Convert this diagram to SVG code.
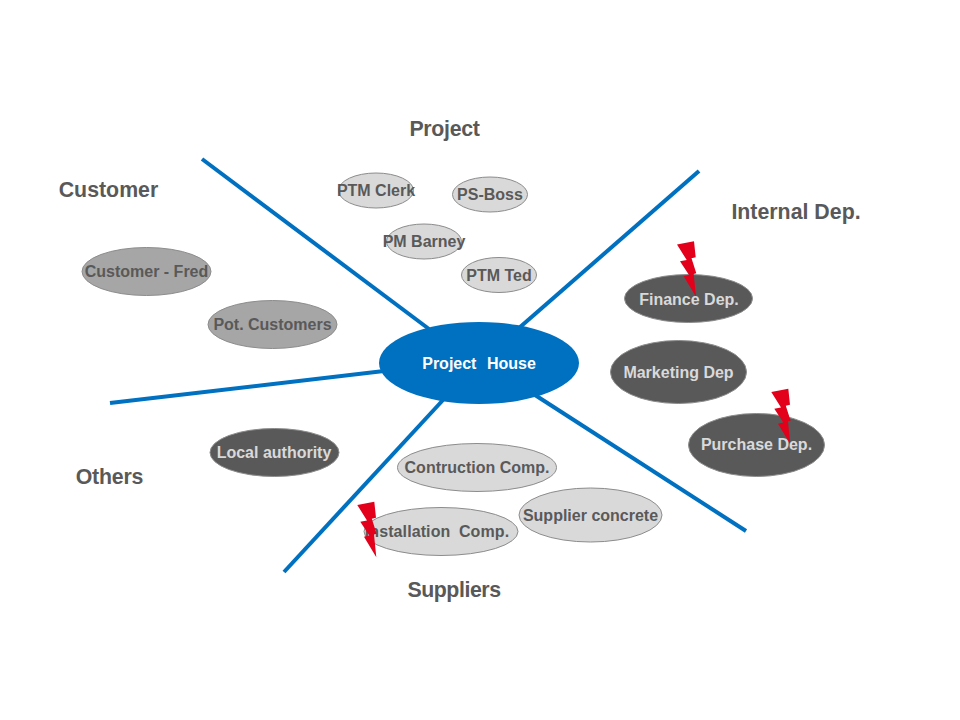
<svg xmlns="http://www.w3.org/2000/svg" width="960" height="720" viewBox="0 0 960 720">
<style>
text{font-family:"Liberation Sans",Arial,sans-serif;font-weight:bold;text-anchor:middle}
.h{font-size:21.33px;fill:#595959}
.l{font-size:16px}
.n{stroke:#8c8c8c;stroke-width:1}
.light{fill:#d9d9d9}.mid{fill:#a6a6a6}.dark{fill:#595959}
.tl{fill:#595959}.td{fill:#d9d9d9}
.c{stroke:#0070c0;stroke-width:4;fill:none}
.bolt{fill:#e3001b}
</style>
<defs><polygon id="bolt" class="bolt" points="0,3.3 17,0 18.7,16 14.5,17 19.3,32 16.7,32.700 19,55.500 6.700,35 12,33.700 3,20 9.700,18.700"/></defs>
<rect width="960" height="720" fill="#fff"/>
<g id="connectors">
<line class="c" x1="202" y1="159" x2="429" y2="329"/>
<line class="c" x1="699" y1="171" x2="519" y2="328"/>
<line class="c" x1="110" y1="403" x2="384" y2="371"/>
<line class="c" x1="443" y1="400" x2="284" y2="572"/>
<line class="c" x1="535" y1="395" x2="746" y2="531"/>
</g>
<g id="center"><ellipse cx="479" cy="363" rx="100" ry="41" fill="#0070c0"/><text class="l" x="479" y="369" fill="#fff" word-spacing="6">Project House</text></g>
<g id="h-project"><text class="h" x="444.500" y="136" letter-spacing="-0.3">Project</text></g>
<g id="h-customer"><text class="h" x="108.500" y="197">Customer</text></g>
<g id="h-internal"><text class="h" x="796" y="219">Internal Dep.</text></g>
<g id="h-others"><text class="h" x="109.500" y="484" letter-spacing="-0.2">Others</text></g>
<g id="h-suppliers"><text class="h" x="454" y="597" letter-spacing="-0.45">Suppliers</text></g>
<g id="ptm-clerk"><ellipse class="n light" cx="376" cy="190.500" rx="37.500" ry="17.500"/><text class="l tl" x="376" y="196">PTM Clerk</text></g>
<g id="ps-boss"><ellipse class="n light" cx="490" cy="194.500" rx="37.500" ry="17.500"/><text class="l tl" x="490" y="200">PS-Boss</text></g>
<g id="pm-barney"><ellipse class="n light" cx="424" cy="241.500" rx="37.500" ry="17.500"/><text class="l tl" x="424" y="247">PM Barney</text></g>
<g id="ptm-ted"><ellipse class="n light" cx="499" cy="275" rx="37.500" ry="17.500"/><text class="l tl" x="499" y="281">PTM Ted</text></g>
<g id="customer-fred"><ellipse class="n mid" cx="146.500" cy="271.500" rx="64.500" ry="24"/><text class="l tl" x="146.500" y="277">Customer - Fred</text></g>
<g id="pot-customers"><ellipse class="n mid" cx="272.500" cy="324.500" rx="64.500" ry="24"/><text class="l tl" x="272.500" y="330">Pot. Customers</text></g>
<g id="local-authority"><ellipse class="n dark" cx="274.500" cy="452.500" rx="64.500" ry="24"/><text class="l td" x="274" y="458">Local authority</text></g>
<g id="contruction"><ellipse class="n light" cx="477" cy="467.500" rx="79.500" ry="24"/><text class="l tl" x="477" y="473">Contruction Comp.</text></g>
<g id="supplier-concrete"><ellipse class="n light" cx="590.500" cy="515" rx="71.500" ry="27"/><text class="l tl" x="590.500" y="521">Supplier concrete</text></g>
<g id="installation"><ellipse class="n light" cx="441" cy="531.500" rx="77" ry="24"/><text class="l tl" x="437" y="537" word-spacing="4" letter-spacing="0.1">Installation Comp.</text><use href="#bolt" x="357.300" y="501.700"/></g>
<g id="finance"><ellipse class="n dark" cx="688.500" cy="298.500" rx="64" ry="24"/><use href="#bolt" x="677" y="241.300"/><text class="l td" x="689" y="305">Finance Dep.</text></g>
<g id="marketing"><ellipse class="n dark" cx="678.500" cy="372" rx="68" ry="31.500"/><text class="l td" x="678.500" y="378">Marketing Dep</text></g>
<g id="purchase"><ellipse class="n dark" cx="756.500" cy="445" rx="68" ry="31.500"/><use href="#bolt" x="771.300" y="388.700"/><text class="l td" x="756.500" y="450">Purchase Dep.</text></g>
</svg>
